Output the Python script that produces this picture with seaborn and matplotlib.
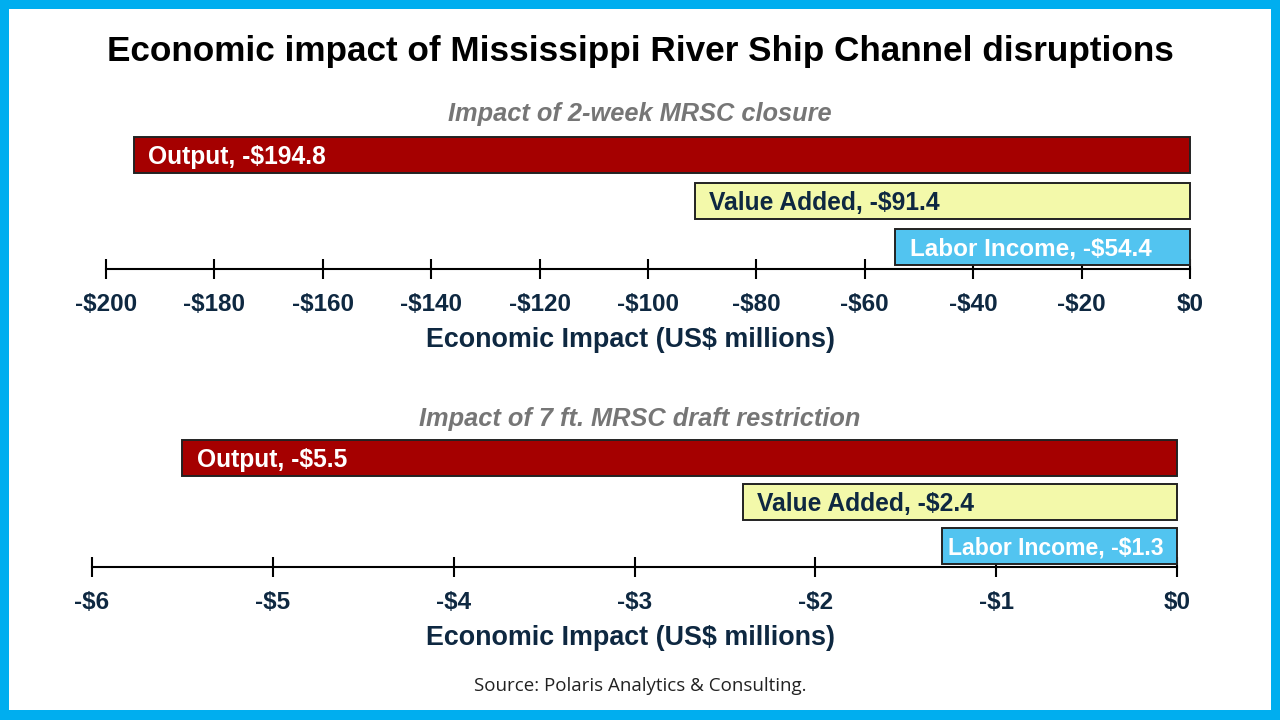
import matplotlib
matplotlib.use("Agg")
import matplotlib.pyplot as plt
from matplotlib.patches import Rectangle
import seaborn as sns

# data
categories = ["Output", "Value Added", "Labor Income"]
closure_values = [-194.8, -91.4, -54.4]
draft_values = [-5.5, -2.4, -1.3]
closure_ticks = [-200, -180, -160, -140, -120, -100, -80, -60, -40, -20, 0]
draft_ticks = [-6, -5, -4, -3, -2, -1, 0]

title = "Economic impact of Mississippi River Ship Channel disruptions"
closure_title = "Impact of 2-week MRSC closure"
draft_title = "Impact of 7 ft. MRSC draft restriction"
x_label = "Economic Impact (US$ millions)"
source = "Source: Polaris Analytics & Consulting."

bar_colors = ["#A50000", "#F3F9AA", "#52C4F0"]
text_colors = ["white", "#0E2841", "white"]
navy = "#0E2841"

sns.set_theme(style="white")
plt.rcParams["font.family"] = ["Liberation Sans", "DejaVu Sans"]

W, H = 1280, 720
fig = plt.figure(figsize=(12.8, 7.2), dpi=100)
fig.patch.set_facecolor("#00AEEF")
fig.patches.append(Rectangle((9 / W, 10 / H), 1262 / W, 701 / H, transform=fig.transFigure,
                             facecolor="white", edgecolor="none", zorder=-1))


def money(v):
    return f"-${abs(v):g}" if v < 0 else f"${v:g}"


def panel(rect, values, ticks, bar_h, label_sizes, sub, sub_y):
    left, top, right, bottom = rect
    height = bottom - top
    ax = fig.add_axes([left / W, 1 - bottom / H, (right - left) / W, height / H])
    ax.set_facecolor("none")
    sns.barplot(x=values, y=categories, hue=categories, palette=bar_colors, orient="h",
                width=bar_h, saturation=1, edgecolor="#222222", linewidth=1.4,
                legend=False, ax=ax)
    for p in ax.patches:
        p.set_clip_on(False)
    ax.set_xlim(ticks[0], ticks[-1])
    ax.set_ylim(2.478, -0.5)
    for s in ["top", "left", "right"]:
        ax.spines[s].set_visible(False)
    ax.spines["bottom"].set_color("black")
    ax.spines["bottom"].set_linewidth(1.5)
    ax.set_yticks([])
    ax.set_ylabel("")
    ax.set_xticks(ticks)
    ax.set_xticklabels([money(t) for t in ticks], fontsize=17.5, fontweight="bold", color=navy)
    ax.tick_params(axis="x", direction="inout", length=14, width=1.5, color="black", pad=10,
                   bottom=True)
    ax.set_xlabel(x_label, fontsize=19.4, fontweight="bold", color=navy)
    ax.xaxis.set_label_coords((630 - left) / (right - left), -58 / height)
    for i, (cat, v) in enumerate(zip(categories, values)):
        ax.annotate(f"{cat}, {money(v)}", xy=(v, i), xytext=(label_sizes[i][1], -1.2),
                    textcoords="offset points", va="center", ha="left",
                    fontsize=label_sizes[i][0], fontweight="bold", color=text_colors[i])
    fig.text(0.5, 1 - sub_y / H, sub, ha="center", va="center", fontsize=18.3,
             fontweight="bold", fontstyle="italic", color="#767676")
    return ax


panel((106, 132, 1190, 269), closure_values, closure_ticks, 0.783,
      [(17.7, 10), (17.7, 10), (17.5, 10.5)], closure_title, 114)
panel((92, 436, 1177, 567), draft_values, draft_ticks, 0.818,
      [(17.7, 10.5), (17.7, 10), (16.6, 4.5)], draft_title, 419)

fig.text(0.5, 1 - 51 / H, title, ha="center", va="center", fontsize=25.3, fontweight="bold",
         color="black")
fig.text(0.5, 1 - 686 / H, source, ha="center", va="center", fontsize=13.5,
         family=["Open Sans", "DejaVu Sans"], color="#222222")

fig.savefig("out.png", dpi=100, facecolor=fig.get_facecolor())
